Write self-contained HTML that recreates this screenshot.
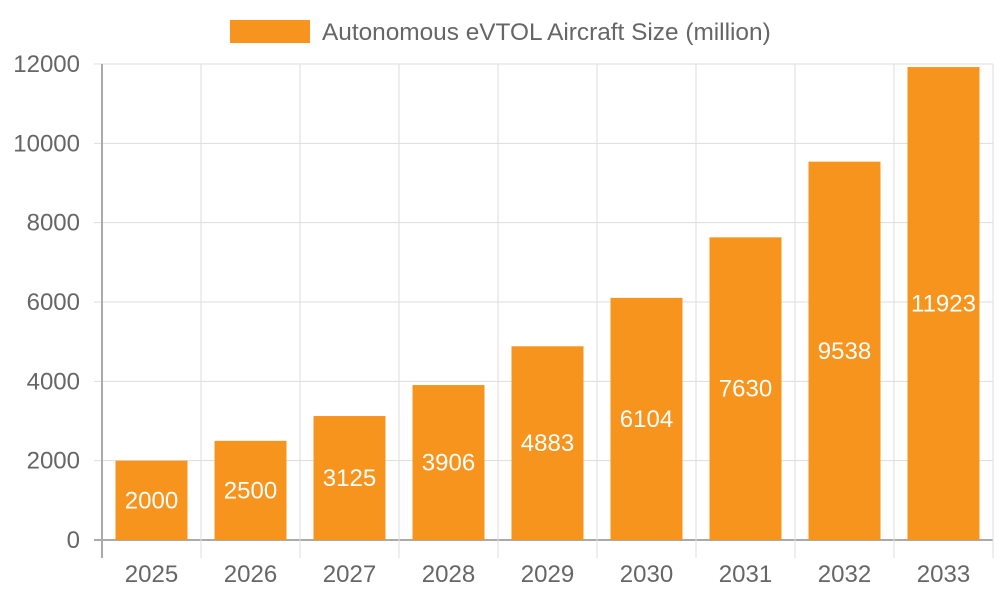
<!DOCTYPE html>
<html><head><meta charset="utf-8"><style>
body{margin:0;background:#fff;}
svg{display:block;font-family:"Liberation Sans",sans-serif;}
</style></head><body>
<svg id="chart" width="1000" height="600">
<rect x="230" y="20" width="80" height="23" fill="#F7941D"/>
<text x="322" y="40" font-size="24.4" fill="#666">Autonomous eVTOL Aircraft Size (million)</text>
<g id="grid"></g><g id="bars"></g><g id="labels"></g>
</svg>
<script>
const categories=["2025","2026","2027","2028","2029","2030","2031","2032","2033"];
const values=[2000,2500,3125,3906,4883,6104,7630,9538,11923];
const yTicks=[0,2000,4000,6000,8000,10000,12000];
const NS="http://www.w3.org/2000/svg";
const L=102,R=993,T=64,B=540,yMax=12000;
const bw=(R-L)/categories.length;
const y=v=>B-(v/yMax)*(B-T);
const x=i=>L+i*bw;
function mk(tag,a,p){const e=document.createElementNS(NS,tag);for(const k in a)e.setAttribute(k,a[k]);p.appendChild(e);return e;}
const g=document.getElementById('grid'),bg=document.getElementById('bars'),lg=document.getElementById('labels');
yTicks.forEach(t=>{
 const ln=mk('line',{x1:94,x2:R,y1:y(t),y2:y(t),stroke:t===0?'#aaa':'#ddd','stroke-width':t===0?2:1},g);
 
 
 const tx=mk('text',{x:80,y:y(t)+8,'text-anchor':'end','font-size':24,fill:'#666'},g);
 tx.textContent=t;
 
 
});
for(let i=0;i<=categories.length;i++){
 const ln=mk('line',{x1:x(i),x2:x(i),y1:T,y2:558,stroke:i===0?'#aaa':'#ddd','stroke-width':i===0?2:1},g);
 
 
}
categories.forEach((c,i)=>{
 const cx=x(i)+bw/2,w=72;
 const r=mk('rect',{x:cx-w/2,y:y(values[i]),width:w,height:B-y(values[i]),fill:'#F7941D'},bg);
 
 
 const v=mk('text',{x:cx,y:(y(values[i])+B)/2+8,'text-anchor':'middle','font-size':24,fill:'#fff'},lg);
 v.textContent=values[i];
 
 
 const t=mk('text',{x:cx,y:582,'text-anchor':'middle','font-size':24,fill:'#666'},lg);
 t.textContent=c;
 
 
});
</script>
</body></html>
